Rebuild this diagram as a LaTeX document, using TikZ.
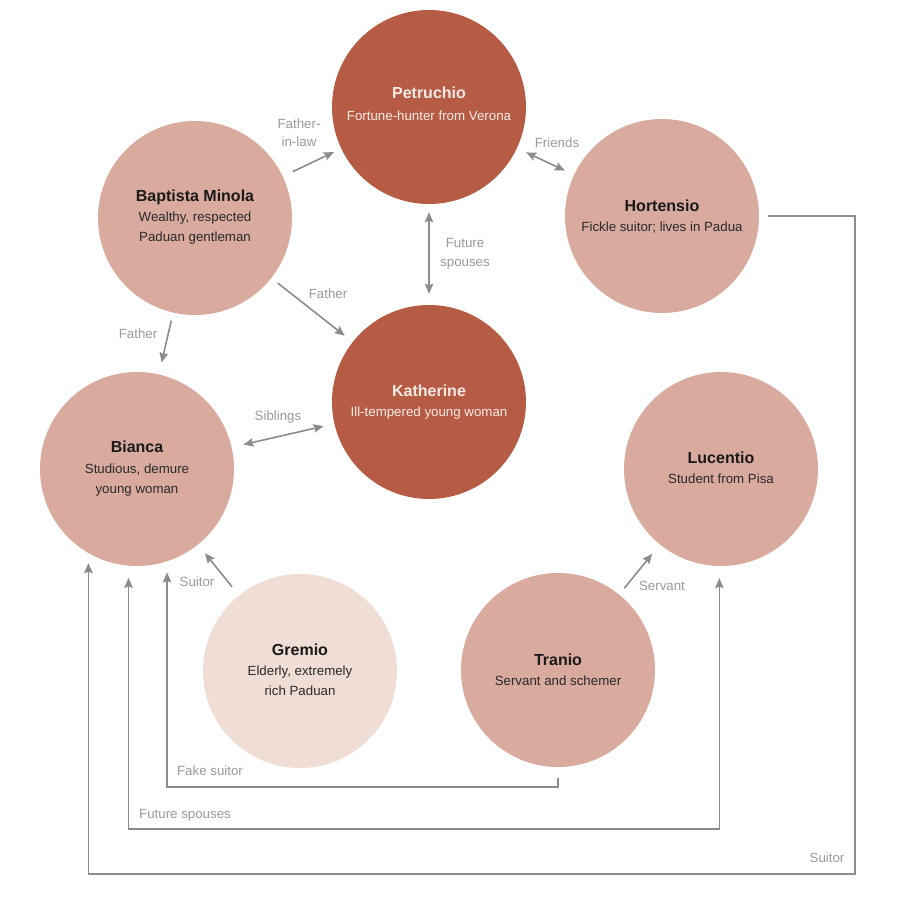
\documentclass[tikz,border=0pt]{standalone}
\usepackage{fontspec}
\setmainfont{Liberation Sans}
\usetikzlibrary{arrows.meta}
\definecolor{cdark}{HTML}{B65C45}
\definecolor{clight}{HTML}{D9AA9E}
\definecolor{cpale}{HTML}{F0DDD6}
\definecolor{linegray}{HTML}{8C8C8C}
\definecolor{lblgray}{HTML}{9A9A9A}
\definecolor{nametext}{HTML}{1A1A1A}
\definecolor{desctext}{HTML}{2A2A2A}
\definecolor{lighttext}{HTML}{F7EAE5}
\begin{document}
\begin{tikzpicture}[x=1pt,y=-1pt,
  person/.style={circle, minimum size=194pt, inner sep=0pt},
  pdark/.style={person, fill=cdark},
  plight/.style={person, fill=clight},
  ppale/.style={person, fill=cpale},
  txt/.style={inner sep=0pt, text height=0.72em, text depth=0pt, anchor=center},
  nm/.style={txt, font=\fontsize{16}{19}\selectfont\bfseries, text=nametext},
  nmw/.style={nm, text=lighttext},
  ds/.style={txt, font=\fontsize{13.3}{16}\selectfont, text=desctext},
  dsw/.style={ds, text=lighttext},
  lbl/.style={txt, font=\fontsize{13.3}{16}\selectfont, text=lblgray},
  tip/.style={},
  conn/.style={draw=linegray, line width=1.6pt, -{Stealth[length=10pt,width=8.5pt,inset=1.5pt]}},
  bconn/.style={draw=linegray, line width=1.6pt, {Stealth[length=10pt,width=8.5pt,inset=1.5pt]}-{Stealth[length=10pt,width=8.5pt,inset=1.5pt]}},
]
\fill[white] (0,0) rectangle (898,901);
\useasboundingbox (0,0) rectangle (898,901);

% circles
\node[pdark]  (pet) at (429,107) {};
\node[plight] (bap) at (195,218) {};
\node[plight] (hor) at (662,216) {};
\node[pdark]  (kat) at (429,402) {};
\node[plight] (bia) at (137,469) {};
\node[plight] (luc) at (721,469) {};
\node[ppale]  (gre) at (300,671) {};
\node[plight] (tra) at (558,670) {};

% texts in circles
\node[nmw] (petN) at (429,95) {Petruchio};
\node[dsw] (petD) at (429,116.5) {Fortune-hunter from Verona};
\node[nm] (bapN) at (195,198) {Baptista Minola};
\node[ds] (bapD1) at (195,217.7) {Wealthy, respected};
\node[ds] (bapD2) at (195,237.7) {Paduan gentleman};
\node[nm] (horN) at (662,207.7) {Hortensio};
\node[ds] (horD) at (662,228.3) {Fickle suitor; lives in Padua};
\node[nmw] (katN) at (429,393) {Katherine};
\node[dsw] (katD) at (429,413) {Ill-tempered young woman};
\node[nm] (biaN) at (137,449) {Bianca};
\node[ds] (biaD1) at (137,470) {Studious, demure};
\node[ds] (biaD2) at (137,489.5) {young woman};
\node[nm] (lucN) at (721,460) {Lucentio};
\node[ds] (lucD) at (721,480) {Student from Pisa};
\node[nm] (greN) at (300,651.7) {Gremio};
\node[ds] (greD1) at (300,671.7) {Elderly, extremely};
\node[ds] (greD2) at (300,691.7) {rich Paduan};
\node[nm] (traN) at (558,662) {Tranio};
\node[ds] (traD) at (558,682) {Servant and schemer};

% direct connectors
\draw[conn, shorten <=11pt, shorten >=8pt] (bap) -- (pet);
\draw[bconn, shorten <=10pt, shorten >=10pt] (pet) -- (hor);
\draw[bconn, shorten <=8pt, shorten >=11pt] (pet) -- (kat);
\draw[conn, shorten <=8pt, shorten >=10pt] (bap) -- (kat);
\draw[conn, shorten <=8pt, shorten >=12pt] (bap) -- (bia);
\draw[bconn, shorten <=12pt, shorten >=11pt] (bia) -- (kat);
\draw[conn, shorten <=11pt, shorten >=11pt] (gre) -- (bia);
\draw[conn, shorten <=8pt, shorten >=12pt] (tra) -- (luc);

% routed connectors
\draw[conn, shorten <=11pt, shorten >=11pt] (tra.south) -- ++(0,20) -| (bia.-72);
\draw[bconn, shorten <=12pt, shorten >=12pt] (bia.-95) -- ++(0,263.4) -| (luc.-91);
\draw[conn, shorten <=9pt, shorten >=10pt] (hor.east) -- ++(96,0) -- ++(0,658) -| (bia.240);

% labels
\node[lbl] (l1a) at (299,125) {Father-};
\node[lbl] (l1b) at (299,143.3) {in-law};
\node[lbl] (l2) at (557,144) {Friends};
\node[lbl] (l3a) at (465,244) {Future};
\node[lbl] (l3b) at (465,263) {spouses};
\node[lbl] (l4) at (328,295) {Father};
\node[lbl] (l5) at (138,335) {Father};
\node[lbl] (l6) at (278,417) {Siblings};
\node[lbl] (l7) at (197,583) {Suitor};
\node[lbl] (l8) at (662,587) {Servant};
\node[lbl] (l9) at (210,772) {Fake suitor};
\node[lbl] (l10) at (185,815) {Future spouses};
\node[lbl] (l11) at (827,859) {Suitor};
\end{tikzpicture}
\end{document}
